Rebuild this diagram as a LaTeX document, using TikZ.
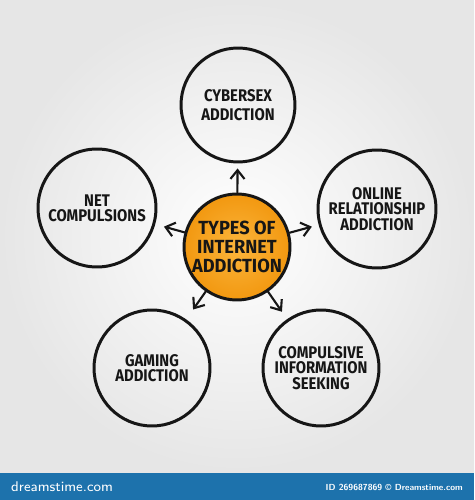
\documentclass[tikz,border=0pt]{standalone}
\usepackage{fontspec}
\newfontfamily\markerfont[FakeStretch=0.88]{Fira Sans}
\newfontfamily\hubfont[FakeStretch=0.96]{Fira Sans}
\usepackage{tikz}
\usetikzlibrary{shapes.geometric,arrows.meta,calc,positioning}
\definecolor{ink}{HTML}{161616}
\definecolor{hubinner}{HTML}{FBB53C}
\definecolor{hubouter}{HTML}{F29810}
\definecolor{bggray}{HTML}{E6E6E6}
\definecolor{barblue}{HTML}{1D72AC}

\begin{document}
\begin{tikzpicture}[x=0.02cm, y=-0.02cm, line cap=round,
    >={Straight Barb[length=5pt,width=8pt]}]
   \useasboundingbox (0,0) rectangle (474,500);
   % background and credit bar
   \shade[inner color=white, outer color=bggray] (0,0) rectangle (474,472);
   \fill[barblue] (0,473) rectangle (474,500);
   \node (brand) [anchor=west, text=white, font=\sffamily\fontsize{8}{9}\selectfont] at (5,487) {dreamstime.com};
   \node (credit) [anchor=east, text=white, font=\sffamily\bfseries\fontsize{5}{6}\selectfont] at (469,487) {ID 269687869 \textcopyright{} Dreamstime.com};
   \begin{scope}[every node/.style={circle,draw=ink,line width=1.7pt,text=ink,align=center,inner sep=0pt,
        font=\markerfont\bfseries\fontsize{9.6}{8.8}\selectfont}]
    \node (hub) [minimum size=2.12cm, inner color=hubinner, outer color=hubouter,
        font=\hubfont\bfseries\fontsize{10.8}{10.6}\selectfont] at (237,247) {TYPES OF\\INTERNET\\ADDICTION};
    \node (cyber) [minimum size=2.28cm, font=\markerfont\bfseries\fontsize{9.6}{10.8}\selectfont] at (238,105) {CYBERSEX\\ADDICTION};
    \node (net) [minimum size=2.36cm, font=\markerfont\bfseries\fontsize{9.6}{8.4}\selectfont] at (97,208) {NET\\COMPULSIONS};
    \node (online) [minimum size=2.36cm] at (377,209) {ONLINE\\RELATIONSHIP\\ADDICTION};
    \node (gaming) [minimum size=2.32cm, font=\markerfont\bfseries\fontsize{9.6}{8.4}\selectfont] at (152,368) {GAMING\\ADDICTION};
    \node (seek) [minimum size=2.32cm] at (321,368) {COMPULSIVE\\INFORMATION\\SEEKING};
   \end{scope}
   \begin{scope}[->,every edge/.style={draw=ink,line width=1.2pt,shorten >=0.18cm}]
    \draw  (hub) edge[shorten >=0.1cm] (cyber);
    \draw  (hub) edge (net);
    \draw  (hub) edge[shorten >=0.14cm] (online);
    \draw  (hub) edge[shorten >=0.24cm] (gaming);
    \draw  (hub) edge (seek);
   \end{scope}
\end{tikzpicture}
\end{document}
